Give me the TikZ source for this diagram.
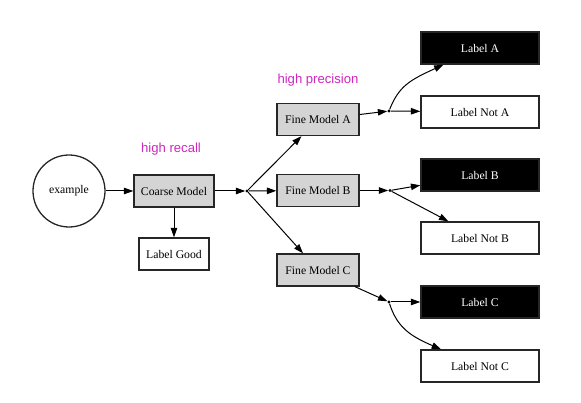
\documentclass[tikz,border=0pt]{standalone}
\usepackage{fontspec}
\setmainfont{Liberation Serif}
\newfontfamily\notefont{Liberation Sans}
\usetikzlibrary{arrows.meta}
\colorlet{box edge}{black!85}
\colorlet{model area}{black!17}
\definecolor{note text}{RGB}{204,40,190}
\tikzset{box/.style={rectangle, draw=box edge, line width=1.2pt, inner sep=0pt,
        minimum height=0.96cm, font=\fontsize{10}{12}\selectfont},
    model/.style={box, fill=model area, minimum width=2.46cm},
    plain/.style={box, fill=white, minimum width=3.54cm},
    hit/.style={box, fill=black, text=white, minimum width=3.54cm},
    start/.style={circle, draw=box edge, line width=1.1pt, minimum size=2.16cm,
        font=\fontsize{10}{12}\selectfont},
    junction/.style={circle, fill=black, inner sep=0pt, minimum size=2.6pt},
    note/.style={text=note text, font=\notefont\fontsize{11.2}{13}\selectfont},
    flow/.style={-{Triangle[length=8pt,width=5.5pt]}, line width=0.85pt}}

\begin{document}
\begin{tikzpicture}[x=0.03cm, y=-0.03cm]
    \useasboundingbox (0,0) rectangle (581,403);
    \node[start] (ex) at (69,191) {example};
    \node[model, minimum width=2.4cm] (cm) at (174,191) {Coarse Model};
    \node[plain, minimum width=2.1cm] (good) at (174,254) {Label Good};
    \node[junction] (p0) at (247,191) {};
    \node[model] (fa) at (318,119.5) {Fine Model A};
    \node[model] (fb) at (318,190.5) {Fine Model B};
    \node[model] (fc) at (318,270) {Fine Model C};
    \node[junction] (pa) at (389,111) {};
    \node[junction] (pb) at (390,190.5) {};
    \node[junction] (pc) at (389,302) {};
    \node[hit]   (la)   at (480,48)  {Label A};
    \node[plain] (nota) at (480,112) {Label Not A};
    \node[hit]   (lb)   at (480,175) {Label B};
    \node[plain] (notb) at (480,238) {Label Not B};
    \node[hit]   (lc)   at (480,302) {Label C};
    \node[plain] (notc) at (480,366) {Label Not C};
    \node[note] (recall)    at (171,149) {high recall};
    \node[note] (precision) at (318,80)  {high precision};

    \draw[flow] (ex) -- (cm);
    \draw[flow] (cm) -- (good);
    \draw[flow] (cm) -- (p0);
    \draw[flow] (p0) -- (fa);
    \draw[flow] (p0) -- (fb);
    \draw[flow] (p0) -- (fc);
    \draw[flow] (fa) -- (pa);
    \draw[flow] (pa) .. controls +(10,-25) and +(-70,32) .. (la);
    \draw[flow] (pa) -- (nota);
    \draw[flow] (fb) -- (pb);
    \draw[flow] (pb) -- (lb);
    \draw[flow] (pb) -- (notb);
    \draw[flow] (fc) -- (pc);
    \draw[flow] (pc) -- (lc);
    \draw[flow] (pc) .. controls +(8,25) and +(-70,-30) .. (notc);
\end{tikzpicture}
\end{document}
